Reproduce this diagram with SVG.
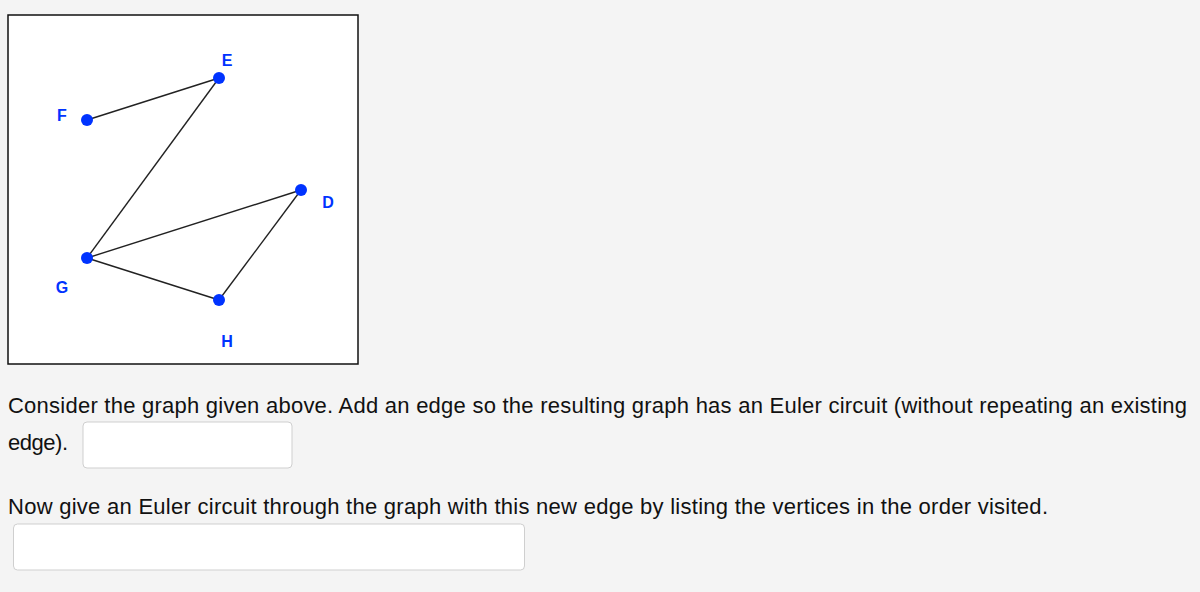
<svg xmlns="http://www.w3.org/2000/svg" width="1200" height="592" viewBox="0 0 1200 592">
<style>
.edge{stroke:#222;stroke-width:1.4;fill:none}
.node{fill:#0033ff}
.lbl{font-family:"Liberation Sans",Arial,sans-serif;font-weight:bold;font-size:16px;fill:#0033ff;text-anchor:middle}
.txt{font-family:"Liberation Sans",Arial,sans-serif;font-size:22px;fill:#111}
.inp{fill:#fff;stroke:#cfcfcf;stroke-width:1}
</style>
<rect x="0" y="0" width="1200" height="592" fill="#f4f4f4"/>
<rect x="8" y="15" width="350" height="349" fill="#fff" stroke="#111" stroke-width="1.5"/>
<g id="edges">
<line class="edge" x1="87" y1="120" x2="219" y2="78"/>
<line class="edge" x1="219" y1="78" x2="87" y2="258"/>
<line class="edge" x1="87" y1="258" x2="301" y2="190"/>
<line class="edge" x1="87" y1="258" x2="219" y2="300"/>
<line class="edge" x1="219" y1="300" x2="301" y2="190"/>
</g>
<g id="node-E"><circle class="node" cx="219" cy="78" r="6"/><text class="lbl" x="227" y="66">E</text></g>
<g id="node-F"><circle class="node" cx="87" cy="120" r="6"/><text class="lbl" x="62" y="121">F</text></g>
<g id="node-D"><circle class="node" cx="301" cy="190" r="6"/><text class="lbl" x="328" y="208">D</text></g>
<g id="node-G"><circle class="node" cx="87" cy="258" r="6"/><text class="lbl" x="62" y="293">G</text></g>
<g id="node-H"><circle class="node" cx="219" cy="300" r="6"/><text class="lbl" x="227" y="347">H</text></g>
<text class="txt" x="8" y="413" textLength="1179">Consider the graph given above. Add an edge so the resulting graph has an Euler circuit (without repeating an existing</text>
<text class="txt" x="8" y="450" textLength="60">edge).</text>
<rect class="inp" x="83" y="422" width="209" height="46" rx="4"/>
<text class="txt" x="8" y="514" textLength="1040">Now give an Euler circuit through the graph with this new edge by listing the vertices in the order visited.</text>
<rect class="inp" x="13.5" y="524" width="511" height="46" rx="4"/>
</svg>
